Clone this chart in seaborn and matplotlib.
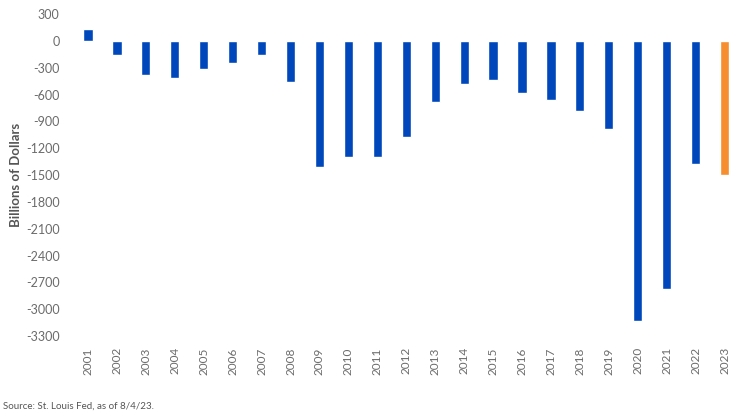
import matplotlib
matplotlib.use("Agg")
import matplotlib.pyplot as plt
import seaborn as sns
import pandas as pd

years = [str(y) for y in range(2001, 2024)]
deficit = [128, -158, -378, -413, -318, -248, -161, -459, -1413, -1294, -1300,
           -1077, -680, -485, -442, -585, -665, -779, -984, -3132, -2775, -1376, -1504]
kind = ["actual"] * 22 + ["latest"]

df = pd.DataFrame({"year": years, "deficit": deficit, "kind": kind})

sns.set_style("white")
plt.rcParams["font.family"] = ["Lato", "DejaVu Sans"]

fig = plt.figure(figsize=(7.39, 4.18), dpi=100)
ax = fig.add_axes([0.0995, 0.196, 0.9005, 0.7705])

sns.barplot(data=df, x="year", y="deficit", hue="kind",
            palette={"actual": "#0047BB", "latest": "#F68D2E"},
            width=0.32, dodge=False, legend=False, saturation=1, ax=ax)

ax.set_ylim(-3300, 300)
ax.set_xlim(-0.5, 22.5)
ticks = list(range(-3300, 301, 300))
ax.set_yticks(ticks)
ax.set_yticklabels([str(t) for t in ticks])
ax.tick_params(axis="y", labelsize=9, colors="#6b6b6b", length=0, pad=10)
ax.tick_params(axis="x", labelsize=8.5, colors="#6b6b6b", length=0, rotation=90, pad=8)
ax.set_xlabel("")
ax.set_ylabel("Billions of Dollars", fontsize=9.5, fontweight="bold", color="#555555")
ax.yaxis.set_label_coords(-0.078, 0.5)
sns.despine(ax=ax, left=True, bottom=True)

fig.text(0.004, 0.022, "Source: St. Louis Fed, as of 8/4/23.", fontsize=7,
         color="#555555", family=["Liberation Sans Narrow", "Lato", "DejaVu Sans"])

fig.savefig("out.png", dpi=100)
